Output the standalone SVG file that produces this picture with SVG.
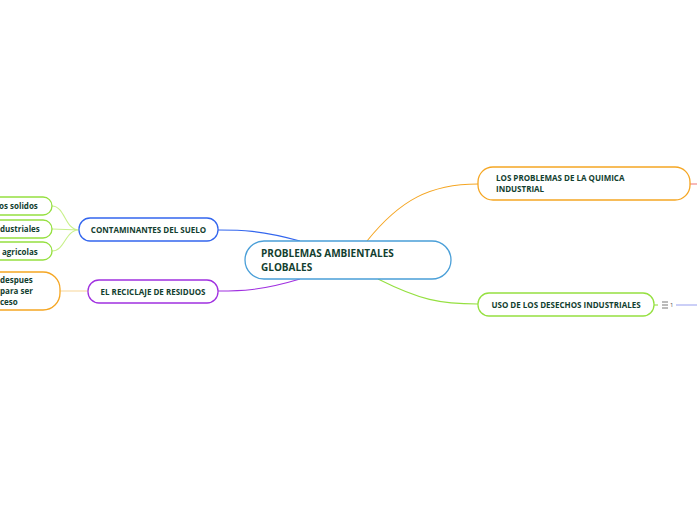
<svg xmlns="http://www.w3.org/2000/svg" width="697" height="520" viewBox="0 0 697 520">
<style>
text{font-family:"Open Sans","Noto Sans",sans-serif;font-weight:bold;fill:#12402f;font-size:8px}
.big{font-size:10px}
.sm{font-size:6px;font-weight:normal;fill:#555}
.n{fill:#fff;stroke-width:1.3}
.c{fill:none;stroke-width:1.1}
</style>
<rect width="697" height="520" fill="#fff"/>
<g id="connectors">
<path class="c" stroke="#3366ee" d="M300,241 C260,230 240,230 218,230"/>
<path class="c" stroke="#a030e0" d="M300,279 C260,291 240,291 218,291"/>
<path class="c" stroke="#f5a623" d="M367,241 C400,200 430,184 478,184"/>
<path class="c" stroke="#95e040" d="M378,279 C420,300 440,304 478,304"/>
<path class="c" stroke="#c8f08a" d="M79,230 C65,230 65,206 52,206 M79,230 L52,229 M79,230 C65,230 65,251 52,251"/>
<path class="c" stroke="#f8d9a0" d="M88,291 L60,291"/>
<path class="c" stroke="#f08080" d="M690,184 L697,184"/>
<path class="c" stroke="#a0a8f0" d="M676,305 L697,305"/>
<path class="c" stroke="#95e040" d="M654,305 L658,305"/>
</g>
<g id="central"><rect class="n" stroke="#4a9fd8" x="245" y="241" width="206" height="38" rx="19"/>
<text class="big" x="261" y="257">PROBLEMAS AMBIENTALES</text><text class="big" x="261" y="271">GLOBALES</text></g>
<g id="contaminantes"><rect class="n" stroke="#3366ee" x="79" y="218" width="139" height="23" rx="11"/><text x="148.5" y="232.5" text-anchor="middle">CONTAMINANTES DEL SUELO</text></g>
<g id="reciclaje"><rect class="n" stroke="#a030e0" x="88" y="280" width="130" height="23" rx="11"/><text x="153" y="294.5" text-anchor="middle">EL RECICLAJE DE RESIDUOS</text></g>
<g id="solidos"><rect class="n" stroke="#95e040" x="-20" y="197" width="72" height="18" rx="9"/><text x="-1" y="209">os solidos</text></g>
<g id="industriales"><rect class="n" stroke="#95e040" x="-20" y="220" width="72" height="18" rx="9"/><text x="0" y="232">dustriales</text></g>
<g id="agricolas"><rect class="n" stroke="#95e040" x="-20" y="242" width="72" height="18" rx="9"/><text x="2" y="255">agricolas</text></g>
<g id="despues"><rect class="n" stroke="#f5a623" x="-30" y="272" width="90" height="38" rx="17"/>
<text x="0" y="283">despues</text><text x="0" y="294">para ser</text><text x="0" y="305">ceso</text></g>
<g id="quimica"><rect class="n" stroke="#f5a623" x="478" y="167" width="212" height="33" rx="15"/>
<text x="496" y="181">LOS PROBLEMAS DE LA QUIMICA</text><text x="496" y="192">INDUSTRIAL</text></g>
<g id="uso"><rect class="n" stroke="#95e040" x="478" y="293" width="176" height="23" rx="11"/><text x="566" y="307.5" text-anchor="middle">USO DE LOS DESECHOS INDUSTRIALES</text>
<g stroke="#555" stroke-width="0.8"><path d="M662,302h6M662,305h6M662,308h6"/></g><text class="sm" x="670" y="307">1</text></g>
</svg>
